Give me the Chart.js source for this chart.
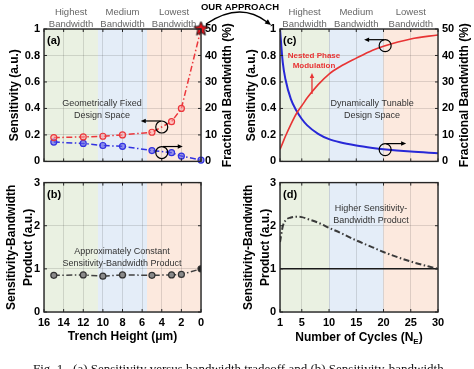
<!DOCTYPE html>
<html>
<head>
<meta charset="utf-8">
<script src="https://cdn.jsdelivr.net/npm/chart.js@4.4.1/dist/chart.umd.min.js"></script>
<style>
  html, body { margin: 0; padding: 0; background: #fff; width: 474px; height: 369px; overflow: hidden; position: relative; }
  canvas { position: absolute; }
  #cap { position: absolute; left: 33px; top: 362px; font: 13px 'Liberation Serif', 'Times New Roman', serif; line-height: 13px; white-space: nowrap; color: #111; }
</style>
</head>
<body>
<canvas id="chA" width="280" height="172" style="left:0;top:0"></canvas>
<canvas id="chB" width="237" height="197" style="left:0;top:172px"></canvas>
<canvas id="chC" width="237" height="172" style="left:237px;top:0"></canvas>
<canvas id="chD" width="237" height="197" style="left:237px;top:172px"></canvas>
<div id="cap">Fig. 1.&nbsp; (a) Sensitivity versus bandwidth tradeoff and (b) Sensitivity-bandwidth</div>
<script>
// panels (a)/(b): trench height sweep
const trenchHeight = [15, 12, 10, 8, 5, 3, 2, 0];
const sensTrench = [0.18, 0.185, 0.19, 0.2, 0.22, 0.3, 0.4, 1.0];
const bwTrench = [7.3, 6.8, 6.0, 5.7, 4.1, 3.3, 2.0, 0.5];
const productTrench = [0.85, 0.86, 0.83, 0.86, 0.85, 0.86, 0.87, 1.0];

// panels (c)/(d): number of cycles
const cycles = [1, 1.5, 2, 3, 4, 5, 6, 8, 10, 12, 15, 18, 20, 25, 30];
const sensCycles = [0.09, 0.14, 0.19, 0.28, 0.36, 0.42, 0.48, 0.58, 0.66, 0.715, 0.78, 0.84, 0.87, 0.925, 0.955];
const bwCycles = [50, 37.5, 31, 23.5, 19.2, 16, 13.6, 10.4, 8.4, 7.2, 6.0, 5.1, 4.6, 3.7, 3.1];
const productCycles = [1.62, 1.98, 2.12, 2.19, 2.21, 2.2, 2.16, 2.07, 1.95, 1.84, 1.66, 1.5, 1.39, 1.17, 1.0];
const refCycles = [1, 30];
const refProduct = [1, 1];

const cycleTicks = [1, 5, 10, 15, 20, 25, 30];
const bandNames = [['Highest', 'Bandwidth'], ['Medium', 'Bandwidth'], ['Lowest', 'Bandwidth']];
const trenchBands = [[16, 10.5], [10.5, 5.5], [5.5, 0]];
const cycleBands = [[1, 10], [10, 20], [20, 30]];
const bandColors = ['rgb(234,241,226)', 'rgb(228,237,248)', 'rgb(252,233,222)'];

const FONT = "'Liberation Sans', Arial, Helvetica, sans-serif";
const GRID = 'rgba(0,0,0,0.12)';
const RED = 'rgb(235,55,60)';
const BLUE = 'rgb(50,50,225)';
const DASHDOT = [6, 2.5, 1.5, 2.5];
const tickFont = { family: FONT, size: 11, weight: 'bold' };
const titleFont = { family: FONT, size: 12, weight: 'bold', lineHeight: 1.4 };

function makeStar(r) {
  const c = document.createElement('canvas');
  const s = Math.ceil(r * 2 + 4);
  c.width = c.height = s;
  const g = c.getContext('2d');
  g.beginPath();
  for (let i = 0; i < 10; i++) {
    const ang = -Math.PI / 2 + i * Math.PI / 5;
    const rr = i % 2 ? r * 0.45 : r;
    g.lineTo(s / 2 + rr * Math.cos(ang), s / 2 + rr * Math.sin(ang));
  }
  g.closePath();
  g.fillStyle = '#e8141c';
  g.fill();
  g.strokeStyle = '#111';
  g.lineWidth = 1;
  g.stroke();
  return c;
}

function pts(xs, ys) {
  return xs.map((v, i) => ({ x: v, y: ys[i] }));
}

function txt(ctx, lines, x, y, size, color, weight, lh) {
  ctx.save();
  ctx.font = (weight || 'normal') + ' ' + size + 'px ' + FONT;
  ctx.fillStyle = color;
  ctx.textAlign = 'center';
  ctx.textBaseline = 'middle';
  lines.forEach((l, i) => ctx.fillText(l, x, y + i * (lh || size * 1.25)));
  ctx.restore();
}

function panelLabel(ctx, a, s) {
  ctx.save();
  ctx.font = 'bold 11px ' + FONT;
  ctx.fillStyle = '#000';
  ctx.textBaseline = 'middle';
  ctx.fillText(s, a.left + 3, a.top + 12);
  ctx.restore();
}

function rightTitle(ctx, a, s) {
  ctx.save();
  ctx.translate(a.right + 27, (a.top + a.bottom) / 2);
  ctx.rotate(-Math.PI / 2);
  ctx.font = 'bold 12px ' + FONT;
  ctx.fillStyle = '#000';
  ctx.textAlign = 'center';
  ctx.textBaseline = 'middle';
  ctx.fillText(s, 0, 0);
  ctx.restore();
}

function arrowHead(ctx, x, y, ang, len, color) {
  ctx.save();
  ctx.fillStyle = color;
  ctx.translate(x, y);
  ctx.rotate(ang);
  ctx.beginPath();
  ctx.moveTo(0, 0);
  ctx.lineTo(-len, -len * 0.45);
  ctx.lineTo(-len, len * 0.45);
  ctx.closePath();
  ctx.fill();
  ctx.restore();
}

function circleArrow(ctx, cx, cy, dir) {
  ctx.save();
  ctx.strokeStyle = '#000';
  ctx.lineWidth = 1.2;
  ctx.beginPath();
  ctx.arc(cx, cy, 6, 0, Math.PI * 2);
  ctx.stroke();
  const ly = cy - 6, ex = cx + dir * 21;
  ctx.beginPath();
  ctx.moveTo(cx + dir * 1, ly);
  ctx.lineTo(ex - dir * 3, ly);
  ctx.stroke();
  arrowHead(ctx, ex, ly, dir > 0 ? 0 : Math.PI, 5, '#000');
  ctx.restore();
}

// shaded bandwidth regions behind grid
function bandsPlugin(bands, labels) {
  return {
    id: 'bands',
    beforeDraw(chart) {
      const { ctx, chartArea: a, scales: { x } } = chart;
      ctx.save();
      bands.forEach((b, i) => {
        const p1 = x.getPixelForValue(b[0]), p2 = x.getPixelForValue(b[1]);
        ctx.fillStyle = bandColors[i];
        ctx.fillRect(Math.min(p1, p2), a.top, Math.abs(p2 - p1), a.bottom - a.top);
        if (labels) txt(ctx, bandNames[i], (p1 + p2) / 2, a.top - 17, 9.5, '#666', 'normal', 12);
      });
      ctx.restore();
    }
  };
}

// matlab style box with inward ticks
const boxPlugin = {
  id: 'box',
  afterDraw(chart) {
    const { ctx, chartArea: a, scales } = chart;
    ctx.save();
    ctx.strokeStyle = '#262626';
    ctx.lineWidth = 1;
    const t = 3;
    const seg = (x1, y1, x2, y2) => { ctx.beginPath(); ctx.moveTo(x1, y1); ctx.lineTo(x2, y2); ctx.stroke(); };
    scales.x.ticks.forEach(tk => {
      const p = scales.x.getPixelForValue(tk.value);
      seg(p, a.bottom, p, a.bottom - t);
      seg(p, a.top, p, a.top + t);
    });
    scales.y.ticks.forEach(tk => {
      const p = scales.y.getPixelForValue(tk.value);
      seg(a.left, p, a.left + t, p);
      if (!scales.y1) seg(a.right, p, a.right - t, p);
    });
    if (scales.y1) scales.y1.ticks.forEach(tk => {
      const p = scales.y1.getPixelForValue(tk.value);
      seg(a.right, p, a.right - t, p);
    });
    ctx.lineWidth = 1.4;
    ctx.strokeRect(a.left, a.top, a.right - a.left, a.bottom - a.top);
    ctx.restore();
  }
};

function yScale(max, step, title, width, pad) {
  return {
    position: 'left', min: 0, max: max,
    ticks: { stepSize: step, font: tickFont, color: '#000', padding: 4, callback: v => String(Number(v.toFixed(1))) },
    grid: { color: GRID, drawTicks: false },
    border: { display: false },
    title: { display: true, text: title, font: titleFont, color: '#000', padding: { top: pad, bottom: 0 } },
    afterFit: s => { s.width = width; }
  };
}

function y1Scale() {
  return {
    position: 'right', min: 0, max: 50,
    ticks: { stepSize: 10, font: tickFont, color: '#000', padding: 4 },
    grid: { display: false, drawTicks: false },
    border: { display: false },
    afterFit: s => { s.width = 36; }
  };
}

function trenchX(showTicks) {
  return {
    type: 'linear', min: 0, max: 16, reverse: true,
    ticks: { display: showTicks, stepSize: 2, font: tickFont, color: '#000', padding: 4, autoSkip: false, maxRotation: 0 },
    grid: { color: GRID, drawTicks: false },
    border: { display: false },
    title: { display: showTicks, text: 'Trench Height (\u03bcm)', font: titleFont, color: '#000', padding: { top: 0, bottom: 1.5 } },
    afterFit: s => { s.height = showTicks ? 35 : 8; }
  };
}

function cycleX(showTicks) {
  return {
    type: 'linear', min: 1, max: 30,
    afterBuildTicks: s => { s.ticks = cycleTicks.map(v => ({ value: v })); },
    ticks: { display: showTicks, font: tickFont, color: '#000', padding: 4, autoSkip: false, maxRotation: 0 },
    grid: { color: GRID, drawTicks: false },
    border: { display: false },
    afterFit: s => { s.height = showTicks ? 35 : 8; }
  };
}

const common = {
  responsive: false,
  animation: false,
  events: [],
  devicePixelRatio: 1,
  plugins: { legend: { display: false }, tooltip: { enabled: false } }
};

const star = makeStar(7.5);

// (a) sensitivity and bandwidth vs trench height
new Chart(document.getElementById('chA'), {
  type: 'line',
  data: {
    datasets: [
      {
        data: pts(trenchHeight, sensTrench), yAxisID: 'y',
        borderColor: RED, borderWidth: 1.5, borderDash: DASHDOT,
        pointStyle: trenchHeight.map((h, i) => i === trenchHeight.length - 1 ? star : 'circle'),
        pointRadius: 3, pointBorderWidth: 1.2, pointBorderColor: RED,
        pointBackgroundColor: 'rgba(255,160,160,0.5)', clip: false
      },
      {
        data: pts(trenchHeight, bwTrench), yAxisID: 'y1',
        borderColor: BLUE, borderWidth: 1.5, borderDash: DASHDOT,
        pointRadius: 3, pointBorderWidth: 1.2, pointBorderColor: BLUE,
        pointBackgroundColor: 'rgba(90,90,235,0.6)', clip: false
      }
    ]
  },
  options: Object.assign({}, common, {
    layout: { autoPadding: false, padding: { top: 29, right: 43, left: 0, bottom: 0 } },
    scales: { x: trenchX(false), y: yScale(1, 0.2, 'Sensitivity (a.u.)', 44, 6.6), y1: y1Scale() }
  }),
  plugins: [bandsPlugin(trenchBands, true), boxPlugin, {
    id: 'notesA',
    afterDraw(chart) {
      const { ctx, chartArea: a, scales: { x, y } } = chart;
      panelLabel(ctx, a, '(a)');
      txt(ctx, ['Geometrically Fixed', 'Design Space'], x.getPixelForValue(10.1), y.getPixelForValue(0.44), 9, '#333', 'normal', 12);
      circleArrow(ctx, x.getPixelForValue(4), y.getPixelForValue(0.26), -1);
      circleArrow(ctx, x.getPixelForValue(4), y.getPixelForValue(0.067), 1);
      rightTitle(ctx, a, 'Fractional Bandwidth (%)');
      // "our approach" callout pointing to panel (c)
      txt(ctx, ['OUR APPROACH'], a.right + 39, 7, 9.5, '#000', 'bold');
      ctx.save();
      ctx.strokeStyle = '#000';
      ctx.lineWidth = 1.3;
      ctx.beginPath();
      ctx.moveTo(a.right + 5, a.top - 5);
      ctx.quadraticCurveTo(a.right + 39, a.top - 28, a.right + 66, a.top - 7);
      ctx.stroke();
      ctx.restore();
      arrowHead(ctx, a.right + 70, a.top - 4, Math.atan2(21, 27), 6, '#000');
    }
  }]
});

// (b) product vs trench height
new Chart(document.getElementById('chB'), {
  type: 'line',
  data: {
    datasets: [{
      data: pts(trenchHeight, productTrench),
      borderColor: '#404040', borderWidth: 1.5, borderDash: DASHDOT,
      pointRadius: 3, pointBorderWidth: 1.2, pointBorderColor: '#333',
      pointBackgroundColor: trenchHeight.map((h, i) => i === trenchHeight.length - 1 ? '#222' : '#8a8a8a')
    }]
  },
  options: Object.assign({}, common, {
    layout: { autoPadding: false, padding: { top: 6, right: 36, left: 0, bottom: 22 } },
    scales: { x: trenchX(true), y: yScale(3, 1, ['Sensitivity-Bandwidth', 'Product (a.u.)'], 44, 3.6) }
  }),
  plugins: [bandsPlugin(trenchBands, false), boxPlugin, {
    id: 'notesB',
    afterDraw(chart) {
      const { ctx, chartArea: a, scales: { x, y } } = chart;
      panelLabel(ctx, a, '(b)');
      txt(ctx, ['Approximately Constant', 'Sensitivity-Bandwidth Product'], x.getPixelForValue(8.05), y.getPixelForValue(1.41), 9, '#333', 'normal', 12);
    }
  }]
});

// (c) sensitivity and bandwidth vs number of cycles
new Chart(document.getElementById('chC'), {
  type: 'line',
  data: {
    datasets: [
      {
        data: pts(cycles, sensCycles), yAxisID: 'y',
        borderColor: 'rgb(232,52,52)', borderWidth: 1.6, pointRadius: 0,
        cubicInterpolationMode: 'monotone'
      },
      {
        data: pts(cycles, bwCycles), yAxisID: 'y1',
        borderColor: 'rgb(40,40,215)', borderWidth: 2, pointRadius: 0,
        cubicInterpolationMode: 'monotone'
      }
    ]
  },
  options: Object.assign({}, common, {
    layout: { autoPadding: false, padding: { top: 29, right: 0, left: 0, bottom: 0 } },
    scales: { x: cycleX(false), y: yScale(1, 0.2, 'Sensitivity (a.u.)', 43, 6.6), y1: y1Scale() }
  }),
  plugins: [bandsPlugin(cycleBands, true), boxPlugin, {
    id: 'notesC',
    afterDraw(chart) {
      const { ctx, chartArea: a, scales: { x, y } } = chart;
      panelLabel(ctx, a, '(c)');
      txt(ctx, ['Nested Phase', 'Modulation'], x.getPixelForValue(7.24), y.getPixelForValue(0.8), 8, 'rgb(232,52,52)', 'bold', 10);
      const ax = x.getPixelForValue(6.87);
      ctx.save();
      ctx.strokeStyle = 'rgb(232,52,52)';
      ctx.lineWidth = 1.3;
      ctx.beginPath();
      ctx.moveTo(ax, y.getPixelForValue(0.51));
      ctx.lineTo(ax, y.getPixelForValue(0.667) + 4);
      ctx.stroke();
      ctx.restore();
      arrowHead(ctx, ax, y.getPixelForValue(0.667), -Math.PI / 2, 5, 'rgb(232,52,52)');
      txt(ctx, ['Dynamically Tunable', 'Design Space'], x.getPixelForValue(17.9), y.getPixelForValue(0.44), 9, '#333', 'normal', 12);
      circleArrow(ctx, x.getPixelForValue(20.3), y.getPixelForValue(0.874), -1);
      circleArrow(ctx, x.getPixelForValue(20.3), y.getPixelForValue(0.089), 1);
      rightTitle(ctx, a, 'Fractional Bandwidth (%)');
    }
  }]
});

// (d) product vs number of cycles
new Chart(document.getElementById('chD'), {
  type: 'line',
  data: {
    datasets: [
      {
        data: pts(cycles, productCycles),
        borderColor: '#3a3a3a', borderWidth: 2, borderDash: DASHDOT, pointRadius: 0,
        cubicInterpolationMode: 'monotone'
      },
      {
        data: pts(refCycles, refProduct),
        borderColor: '#1a1a1a', borderWidth: 1.5, pointRadius: 0
      }
    ]
  },
  options: Object.assign({}, common, {
    layout: { autoPadding: false, padding: { top: 6, right: 36, left: 0, bottom: 22 } },
    scales: { x: cycleX(true), y: yScale(3, 1, ['Sensitivity-Bandwidth', 'Product (a.u.)'], 43, 3.6) }
  }),
  plugins: [bandsPlugin(cycleBands, false), boxPlugin, {
    id: 'notesD',
    afterDraw(chart) {
      const { ctx, chartArea: a, scales: { x, y } } = chart;
      panelLabel(ctx, a, '(d)');
      txt(ctx, ['Higher Sensitivity-', 'Bandwidth Product'], x.getPixelForValue(17.7), y.getPixelForValue(2.4), 9, '#333', 'normal', 12);
      // x title with subscript
      ctx.save();
      ctx.fillStyle = '#000';
      ctx.textBaseline = 'alphabetic';
      const big = 'bold 12px ' + FONT, small = 'bold 8px ' + FONT;
      const p1 = 'Number of Cycles (N', p3 = ')';
      ctx.font = big; const w1 = ctx.measureText(p1).width, w3 = ctx.measureText(p3).width;
      ctx.font = small; const w2 = ctx.measureText('E').width;
      let cx = (a.left + a.right) / 2 - (w1 + w2 + w3) / 2;
      const by = a.bottom + 29;
      ctx.font = big; ctx.fillText(p1, cx, by); cx += w1;
      ctx.font = small; ctx.fillText('E', cx, by + 3); cx += w2;
      ctx.font = big; ctx.fillText(p3, cx, by);
      ctx.restore();
    }
  }]
});
</script>
</body>
</html>
